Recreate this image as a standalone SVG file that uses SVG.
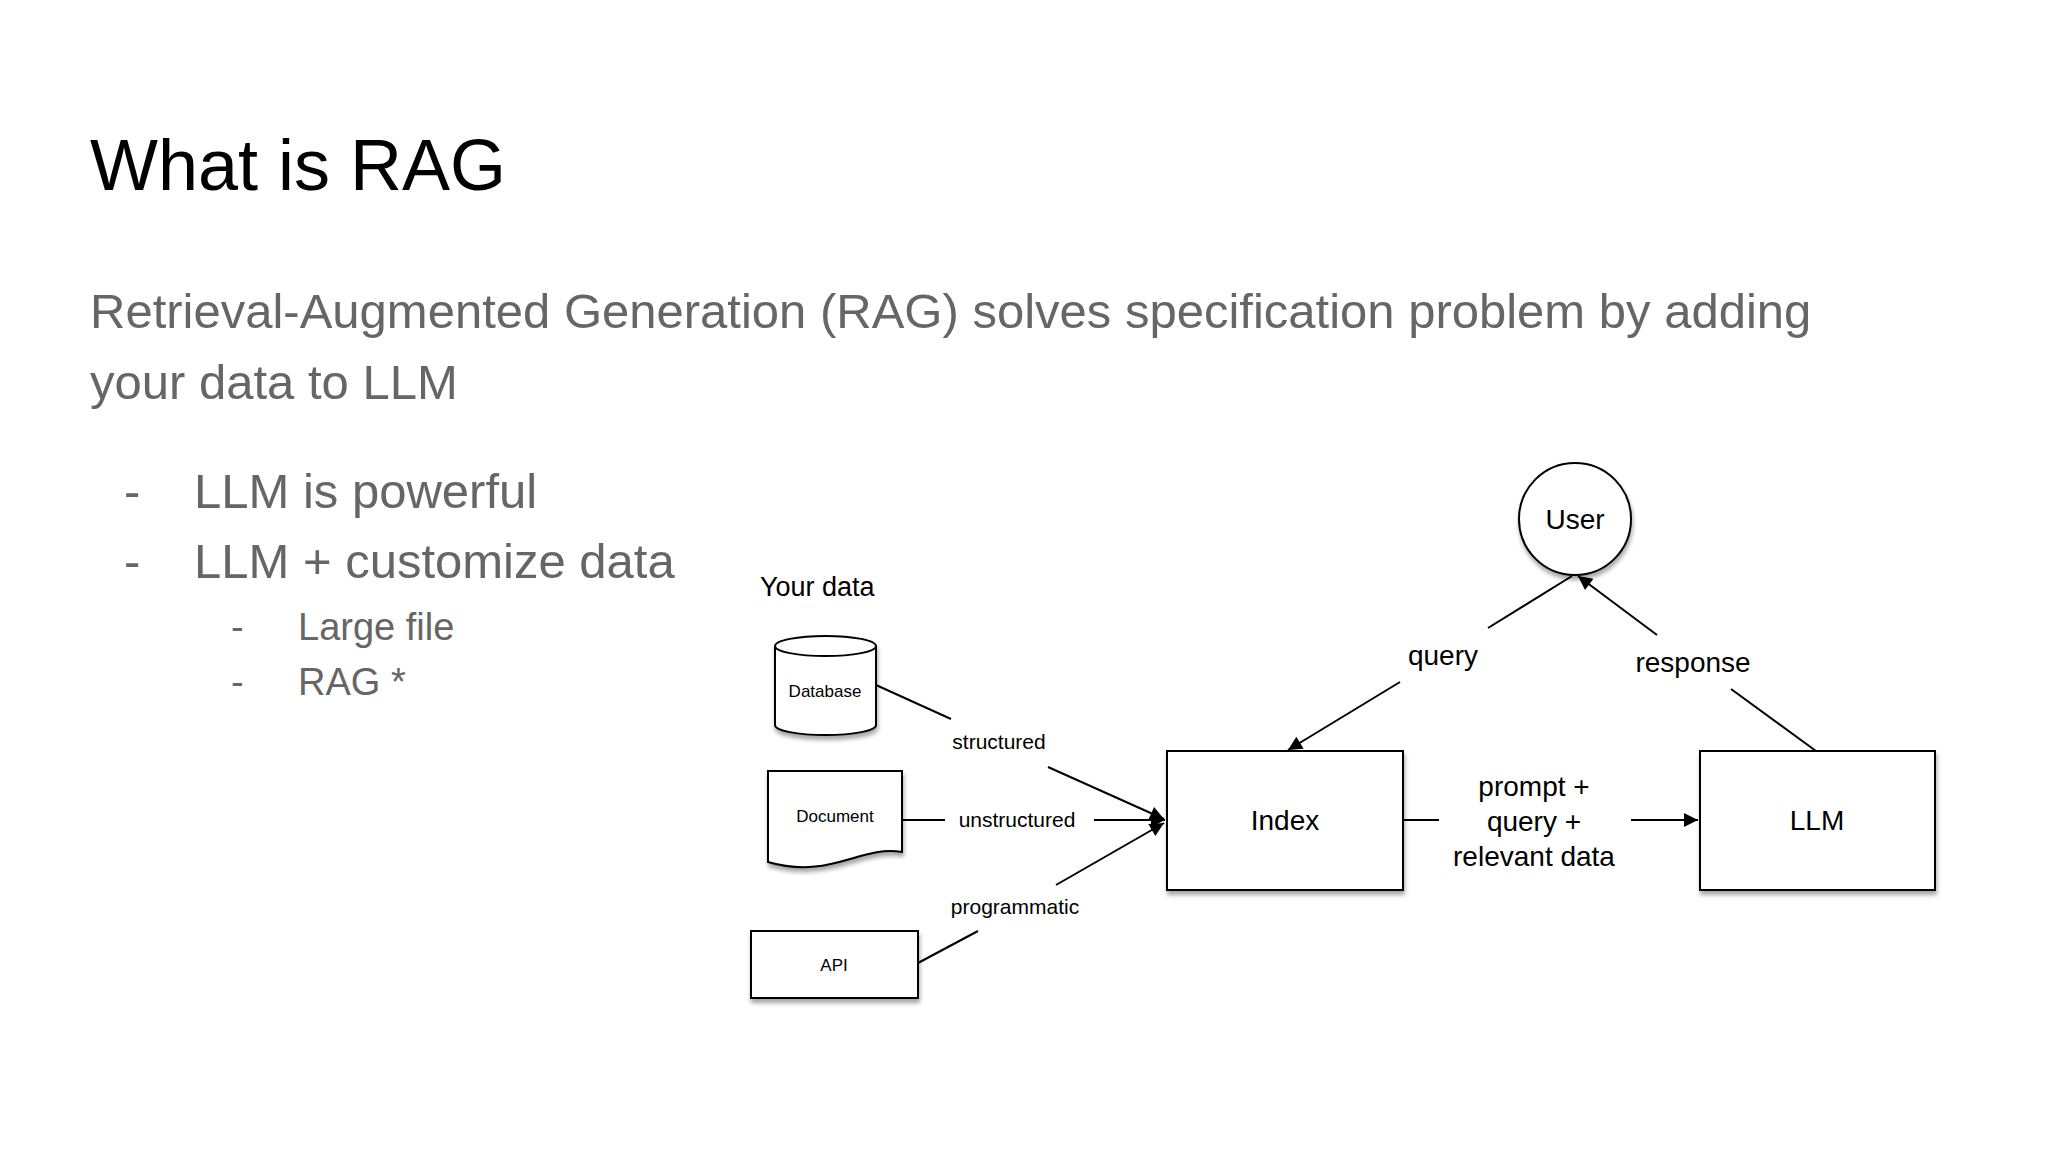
<svg xmlns="http://www.w3.org/2000/svg" width="2048" height="1152" viewBox="0 0 2048 1152">
<style>
text{font-family:"Liberation Sans",Arial,sans-serif}
.g{fill:#666}
.n{fill:#fff;stroke:#000;stroke-width:2}
.l{stroke:#000;stroke-width:2;fill:none}
.t{font-size:28px;text-anchor:middle}
.s{font-size:21px;text-anchor:middle}
.xs{font-size:17px;text-anchor:middle}
</style>
<defs>
<filter id="sh" x="-10%" y="-10%" width="130%" height="130%"><feDropShadow dx="1" dy="4" stdDeviation="2" flood-color="#000" flood-opacity="0.35"/></filter>
<marker id="a" viewBox="0 0 10 10" refX="10" refY="5" markerWidth="8" markerHeight="8" markerUnits="userSpaceOnUse" orient="auto"><path d="M0,0L10,5L0,10z"/></marker>
<marker id="a2" viewBox="0 0 10 10" refX="10" refY="5" markerWidth="18" markerHeight="14" markerUnits="userSpaceOnUse" orient="auto"><path d="M0,0L10,5L0,10z"/></marker>
</defs>
<rect width="2048" height="1152" fill="#fff"/>
<text x="90" y="190" font-size="72">What is RAG</text>
<text class="g" x="90" y="328" font-size="49">Retrieval-Augmented Generation (RAG) solves specification problem by adding</text>
<text class="g" x="90" y="399" font-size="49">your data to LLM</text>
<g class="g" font-size="49"><text x="124" y="508">-</text><text x="194" y="508">LLM is powerful</text><text x="124" y="578">-</text><text x="194" y="578">LLM + customize data</text></g>
<g class="g" font-size="38"><text x="231" y="640">-</text><text x="298" y="640">Large file</text><text x="231" y="695">-</text><text x="298" y="695">RAG *</text></g>
<text x="760" y="596" font-size="27">Your data</text>
<g id="connectors">
<line class="l" x1="876" y1="685" x2="951" y2="719"/>
<line class="l" x1="1048" y1="767" x2="1164" y2="819" marker-end="url(#a2)"/>
<line class="l" x1="902" y1="820" x2="945" y2="820"/>
<line class="l" x1="1094" y1="820" x2="1165" y2="820" marker-end="url(#a2)"/>
<line class="l" x1="918" y1="963" x2="978" y2="931"/>
<line class="l" x1="1056" y1="885" x2="1164" y2="823" marker-end="url(#a2)"/>
<line class="l" x1="1572" y1="576" x2="1488" y2="628"/>
<line class="l" x1="1400" y1="682" x2="1288" y2="750" marker-end="url(#a2)"/>
<line class="l" x1="1816" y1="751" x2="1731" y2="689"/>
<line class="l" x1="1657" y1="635" x2="1578" y2="576" marker-end="url(#a2)"/>
<line class="l" x1="1403" y1="820" x2="1439" y2="820"/>
<line class="l" x1="1631" y1="820" x2="1698" y2="820" marker-end="url(#a2)"/>
<text class="s" x="999" y="749">structured</text>
<text class="s" x="1017" y="827">unstructured</text>
<text class="s" x="1015" y="914">programmatic</text>
<text class="t" x="1443" y="665">query</text>
<text class="t" x="1693" y="672">response</text>
<text class="t" x="1534" y="796">prompt +</text>
<text class="t" x="1534" y="831">query +</text>
<text class="t" x="1534" y="866">relevant data</text>
</g>
<g id="user"><circle class="n" cx="1575" cy="519" r="56" filter="url(#sh)"/><text class="t" x="1575" y="529">User</text></g>
<g id="database"><path class="n" filter="url(#sh)" d="M775,646 A50,10 0 0 1 876,646 L876,725 A50,10 0 0 1 775,725 Z"/><path class="l" d="M775,646 A50,10 0 0 0 876,646"/><text class="xs" x="825" y="697">Database</text></g>
<g id="document"><path class="n" filter="url(#sh)" d="M768,771 H902 V852 C860,845 830,880 768,862 Z"/><text class="xs" x="835" y="822">Document</text></g>
<g id="api"><rect class="n" filter="url(#sh)" x="751" y="931" width="167" height="67"/><text class="xs" x="834" y="971">API</text></g>
<g id="index"><rect class="n" filter="url(#sh)" x="1167" y="751" width="236" height="139"/><text class="t" x="1285" y="830">Index</text></g>
<g id="llm"><rect class="n" filter="url(#sh)" x="1700" y="751" width="235" height="139"/><text class="t" x="1817" y="830">LLM</text></g>
</svg>
